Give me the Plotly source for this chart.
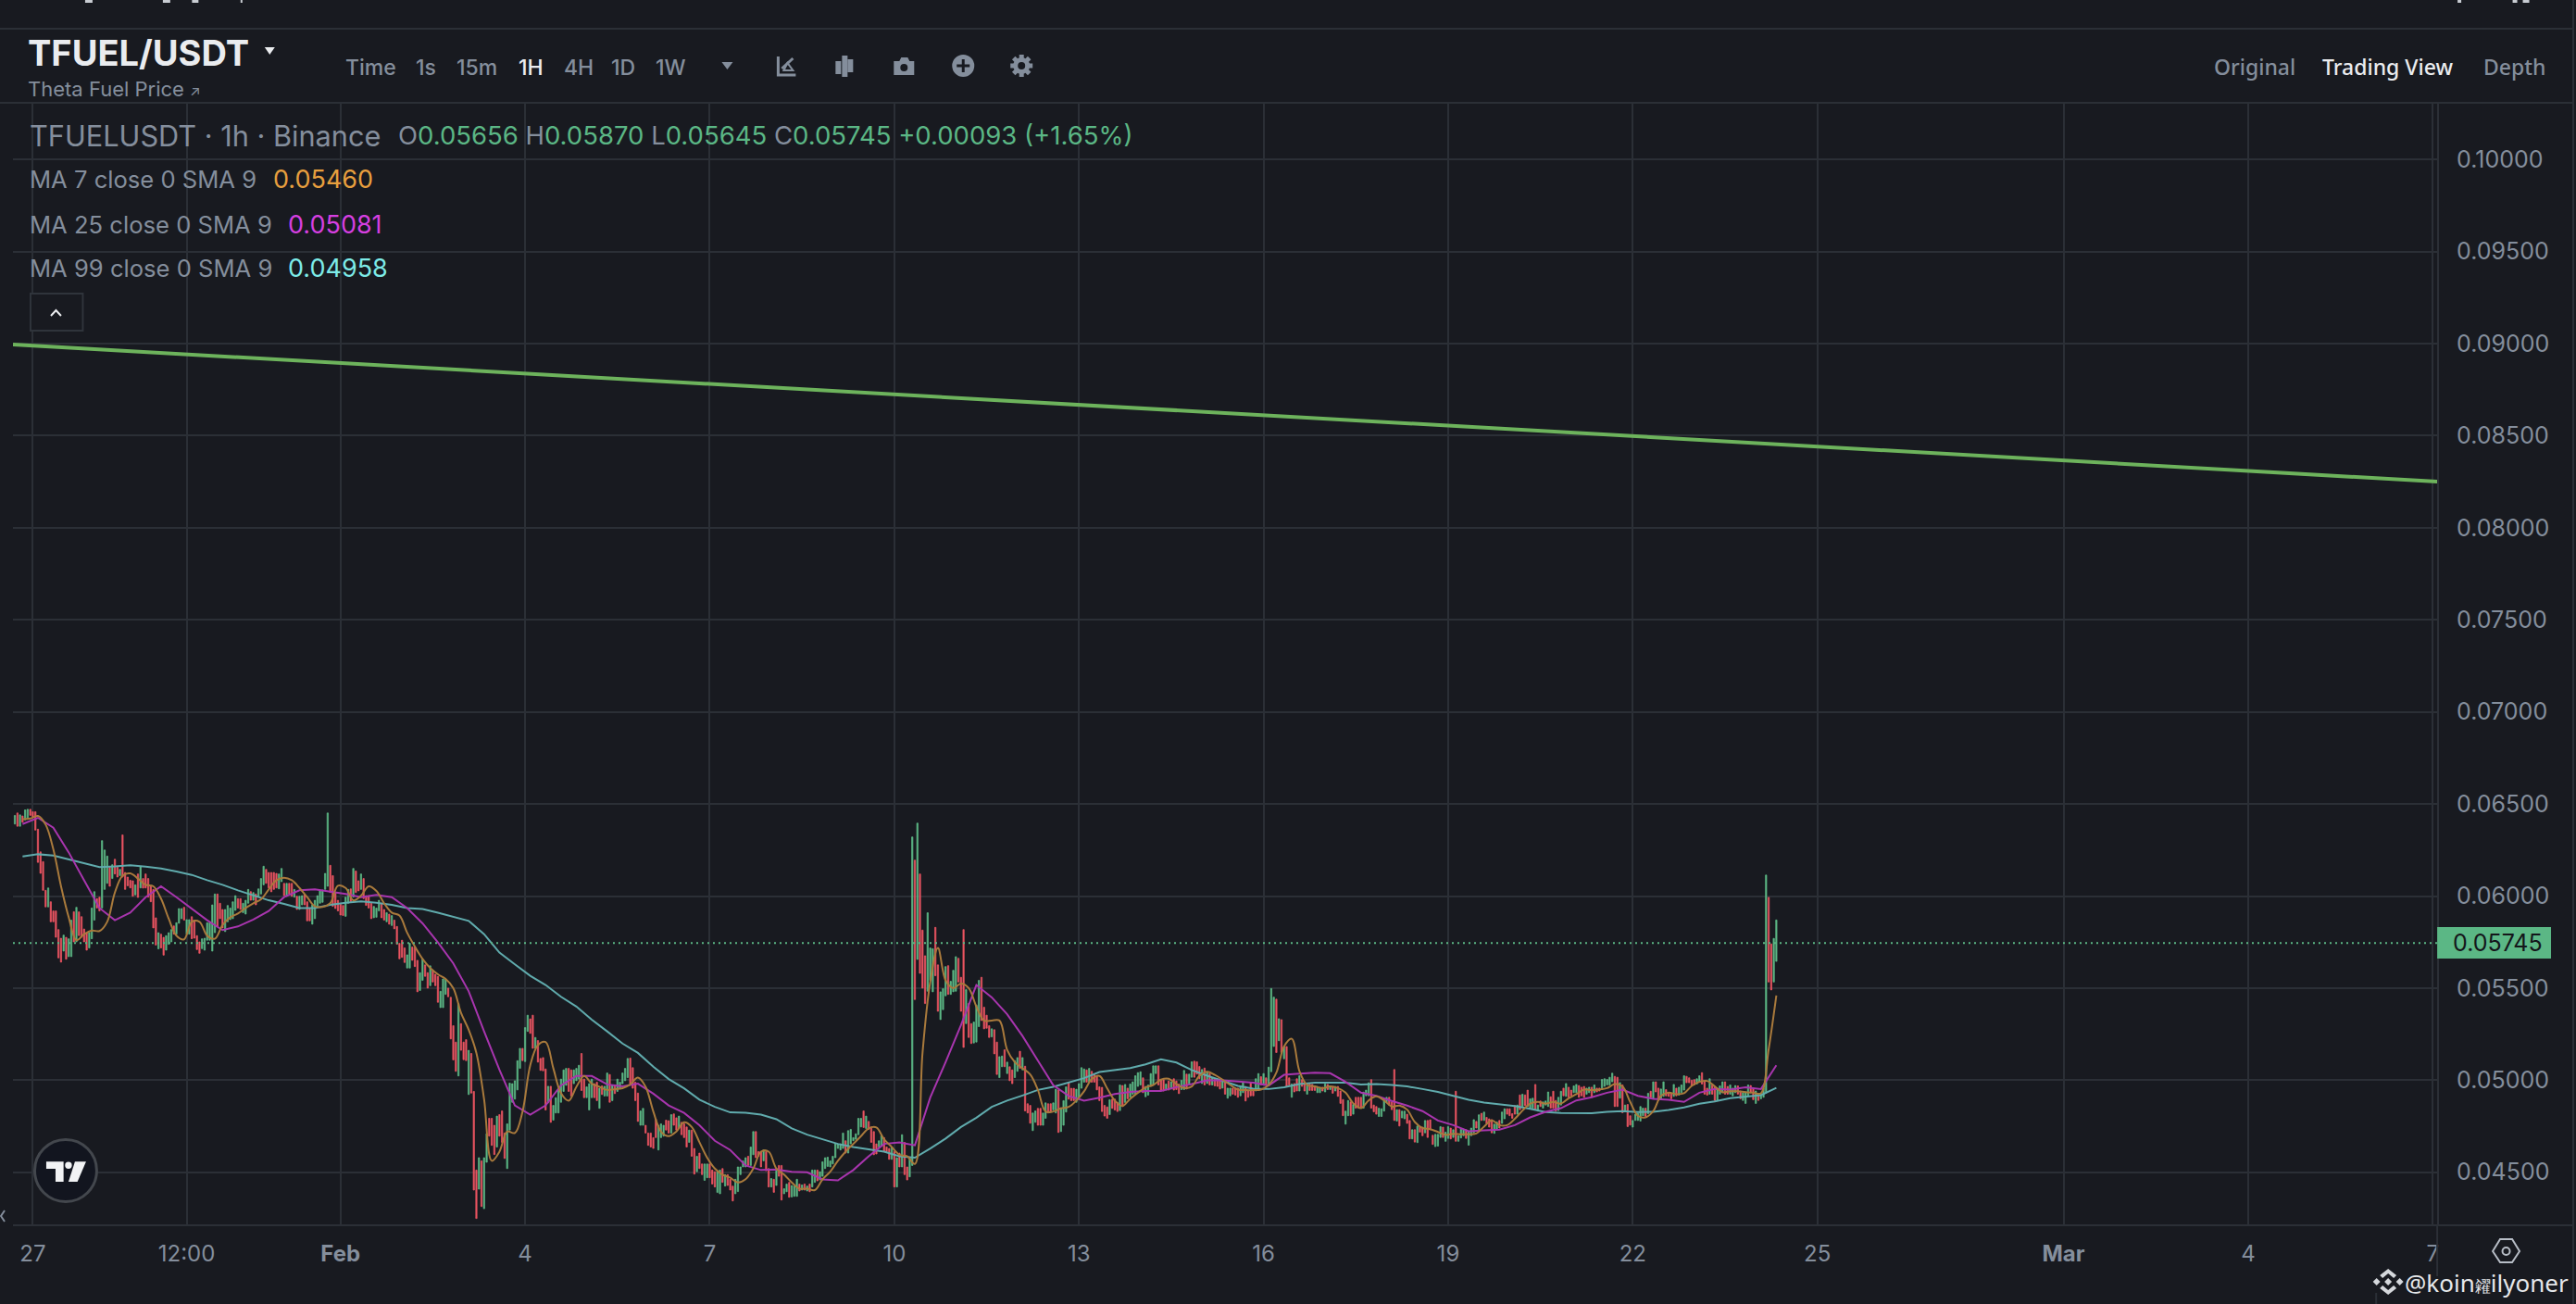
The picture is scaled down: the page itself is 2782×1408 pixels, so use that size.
import pandas as pd
import plotly.graph_objects as go

W = 2782
H = 1408
BG = "#181a20"
GRID = "#2b2f36"
GREY = "#848e9c"
UP = "#5bb785"
DOWN = "#eb5562"
FONT = "Inter"

# hourly candles, prices in 1e-5 USDT, one group per stretch of the picture
high_e5 = [
    6438,6451,6441,6435,6468,6471,6471,6458,6458,6363,
    6240,6187,6031,6044,5969,5919,5919,5818,5771,5788,
    5776,5768,5869,5915,5939,5914,5888,5821,5801,5801,
    5935,6024,5986,5994,6301,6250,6217,6160,6170,6200,
    6157,6145,6332,6128,6103,6086,6083,6061,6120,6160,
    6095,6120,6095,6053,6036,5882,5801,5793,5776,5785,
    5801,5818,5838,5855,5932,5932,5939,5872,5872,5888,
    5869,5785,5751,5768,5771,5855,5855,5952,6011,6011,
    5961,5927,5927,5949,5935,5969,6002,5986,5986,5961,
    5977,6036,6024,6019,6011,6039,6095,6162,6145,6128,
    6128,6128,6123,6120,6150,6069,6069,6069,6069,6036,
    5999,5999,6002,6009,5969,5935,5952,5977,6002,6028,
    6033,6123,6451,6167,6111,6019,5977,5955,5949,5994,
    6036,6039,6150,6136,6083,6120,6095,6002,6002,5961,
    5944,5935,5977,
    5961,5927,5910,5902,5894,5869,5835,5743,5760,5718,
    5681,5743,5723,5723,5651,5584,5659,5626,5584,5621,
    5597,5575,5564,5483,5550,5550,5500,5450,5296,5207,
    5416,5307,5207,5220,5162,5145,4939,4512,4579,4562,
    4579,4709,4793,4793,4755,4805,4813,4833,4713,4763,
    4984,4981,4997,5106,5173,5173,5286,5353,5333,5353,
    5232,5215,5118,5123,5061,4967,4967,4863,4905,4947,
    5006,5056,5064,5064,5056,5056,5064,5081,5145,5006,
    4964,4981,5006,4981,4989,4956,4969,4967,5039,5031,
    4972,4972,5006,4989,5039,5064,5118,5120,5068,4989,
    4930,4833,4847,4755,4713,4713,4688,4788,4755,4763,
    4755,4783,4780,4813,4817,4796,4805,4771,4763,4746,
    4729,4729,4629,4587,4604,4545,4545,4545,4545,4512,
    4503,4503,4512,4520,4487,4487,4462,4425,4462,4529,
    4529,4562,4579,4587,
    4637,4721,4721,4612,4612,4621,4612,4520,4466,4462,
    4520,4537,4537,4411,4436,4445,4428,4425,4462,4436,
    4431,4436,4425,4436,4512,4512,4512,4503,4557,4579,
    4582,4562,4587,4654,4654,4654,4713,4671,4726,4733,
    4688,4709,4793,4793,4833,4805,4776,4746,4721,4654,
    4671,4699,4688,4637,4629,4637,4612,4579,4604,4704,
    4662,4529,4579,6321,6195,6396,6120,5815,5676,5909,
    5718,5714,5830,5626,5480,5497,5617,5622,5537,5597,
    5671,5662,5559,5818,5492,5416,5307,5316,5408,5542,
    5559,5396,5353,5296,5279,5274,5207,5128,5131,5165,
    5098,5073,5056,5106,5123,5157,5123,5076,4872,4863,
    4822,4833,4847,4847,4822,4877,4872,4872,4877,4951,
    4947,4850,4889,4964,4989,4956,4956,4951,4981,5068,
    5061,5056,5064,5048,5031,5023,4964,4961,4863,4855,
    4894,4897,4897,4880,
    4974,4971,4977,4957,4979,4991,5024,5041,5046,5013,
    4966,4974,5036,5078,5078,5078,5003,5003,4979,4996,
    4991,5008,4996,4979,4999,5053,5033,5033,5100,5103,
    5100,5074,5058,5066,5046,5036,5013,5008,5008,5003,
    4994,4986,4957,4957,4957,4957,4957,4966,4986,4966,
    4946,4986,4949,5008,5036,5019,5036,5013,5071,5498,
    5451,5440,5334,5329,5183,5183,5013,4979,4982,5008,
    5024,5003,4991,4982,4979,4977,4969,4966,4962,4962,
    4979,4977,4969,4966,4966,4966,4941,4895,4832,4890,
    4882,4868,4907,4907,4907,4935,4946,4986,5003,4865,
    4857,4848,4845,4899,4907,4907,4882,5058,4840,4840,
    4832,4832,4815,4781,4731,4731,4751,4748,4745,4781,
    4781,4785,4701,4706,4706,4748,4745,4718,4748,4740,
    4731,4940,4698,4734,4734,4731,4723,4740,
    4786,4776,4812,4820,4827,4798,4790,4786,4761,4773,
    4781,4827,4845,4845,4845,4818,4862,4865,4920,4924,
    4920,4946,4899,4902,4977,4865,4887,4882,4887,4936,
    4910,4940,4890,4907,4940,4957,4982,4962,4946,4969,
    4977,4971,4962,4966,4957,4962,4962,4974,4957,4957,
    5004,5008,5004,5016,5038,5021,5016,4987,4974,4865,
    4868,4807,4781,4815,4820,4857,4848,4848,4929,4940,
    4991,4991,4957,4952,4991,4949,4932,4929,4977,4957,
    4962,4974,5024,5021,5013,4999,5003,5008,5024,5041,
    4991,4957,5008,4974,4966,4957,4969,4991,4991,4966,
    4974,4957,4971,4969,4941,4932,4936,4974,4971,4957,
    4941,4915,4924,4957,6114,5993,5740,5770,5870,
]
low_e5 = [
    6391,6379,6379,6401,6413,6421,6438,6430,6358,6183,
    6123,6031,5941,5941,5860,5860,5776,5664,5641,5701,
    5657,5671,5671,5751,5751,5785,5776,5751,5706,5718,
    5768,5869,5935,5919,5935,6036,6069,6053,6095,6120,
    6103,6111,6103,6036,6056,6044,5999,6006,5992,6044,
    6043,6044,5994,5969,5827,5734,5713,5718,5679,5706,
    5738,5751,5793,5793,5852,5877,5869,5793,5793,5768,
    5771,5709,5689,5714,5706,5760,5760,5701,5801,5835,
    5877,5827,5807,5860,5872,5877,5922,5935,5927,5910,
    5902,5961,5977,5977,5952,5994,6011,6061,6069,6044,
    6023,6036,6044,6039,6078,6002,5999,6011,5999,5994,
    5927,5927,5952,5952,5865,5865,5847,5877,5939,5961,
    5966,6036,6053,6019,5944,5932,5919,5897,5894,5890,
    5961,5969,5994,6019,6028,6036,5986,5949,5935,5877,
    5882,5885,5919,
    5882,5869,5860,5847,5840,5822,5738,5659,5667,5639,
    5609,5609,5651,5617,5480,5487,5542,5564,5500,5513,
    5533,5513,5423,5394,5394,5466,5453,5224,5110,5048,
    5023,5162,5111,5106,4922,4930,4403,4249,4408,4314,
    4302,4554,4696,4646,4596,4637,4696,4662,4575,4520,
    4729,4880,4897,4947,5064,5106,5101,5265,5254,5173,
    5173,5098,5053,5051,4838,4877,4771,4783,4822,4822,
    4880,4939,4972,4939,4914,4981,4997,5006,4944,4905,
    4905,4838,4905,4905,4889,4847,4922,4914,4914,4880,
    4889,4927,4939,4956,4981,4997,5014,4981,4956,4889,
    4776,4755,4755,4713,4646,4637,4629,4688,4621,4688,
    4696,4729,4713,4713,4755,4729,4738,4704,4688,4637,
    4662,4587,4490,4503,4520,4487,4456,4470,4470,4436,
    4420,4390,4383,4445,4425,4428,4403,4344,4383,4395,
    4487,4529,4529,4537,
    4537,4595,4579,4587,4529,4562,4508,4420,4420,4391,
    4428,4478,4349,4383,4394,4364,4366,4369,4369,4398,
    4403,4403,4398,4394,4420,4445,4453,4458,4478,4520,
    4532,4529,4545,4579,4629,4621,4629,4604,4604,4654,
    4671,4679,4704,4746,4743,4738,4733,4662,4595,4599,
    4637,4642,4612,4612,4570,4570,4420,4420,4529,4529,
    4487,4458,4475,4537,5438,5656,5580,5500,5416,5483,
    5542,5480,5567,5374,5329,5383,5458,5466,5466,5480,
    5483,5533,5374,5178,5307,5232,5199,5202,5207,5291,
    5324,5279,5282,5232,5235,5143,5031,5014,5073,5073,
    5036,4997,4981,5014,5048,5064,5056,4833,4822,4766,
    4726,4771,4755,4755,4755,4793,4822,4830,4838,4822,
    4716,4721,4755,4827,4897,4889,4889,4880,4905,4956,
    4989,4989,4989,4989,4989,4947,4889,4830,4805,4793,
    4813,4847,4838,4830,
    4835,4857,4879,4899,4907,4924,4924,4966,4974,4932,
    4910,4919,4966,4974,5036,4974,4946,4941,4946,4946,
    4952,4946,4949,4927,4949,4949,4952,4979,5016,5016,
    5033,5008,4982,4974,4982,4974,4974,4969,4966,4952,
    4957,4924,4902,4915,4924,4919,4907,4915,4932,4887,
    4907,4915,4915,4941,4957,4974,4974,4974,4974,5046,
    5183,5150,5214,5150,5116,4966,4974,4907,4936,4941,
    4941,4966,4941,4924,4944,4944,4944,4932,4932,4941,
    4936,4949,4949,4929,4941,4912,4874,4807,4761,4807,
    4807,4815,4848,4848,4852,4848,4915,4915,4848,4828,
    4815,4803,4803,4832,4879,4865,4840,4781,4778,4751,
    4795,4790,4765,4681,4681,4664,4661,4718,4698,4714,
    4689,4731,4651,4639,4642,4689,4689,4668,4684,4681,
    4689,4668,4668,4686,4698,4684,4647,4698,
    4714,4740,4723,4781,4781,4765,4745,4714,4711,4731,
    4740,4765,4790,4815,4807,4793,4815,4815,4840,4857,
    4862,4857,4848,4848,4840,4832,4857,4848,4865,4857,
    4848,4848,4832,4835,4865,4915,4912,4907,4915,4932,
    4932,4907,4915,4907,4924,4932,4907,4932,4936,4941,
    4949,4966,4974,4974,4991,4857,4857,4902,4823,4832,
    4748,4756,4745,4781,4781,4778,4807,4803,4818,4907,
    4899,4936,4890,4899,4912,4915,4912,4899,4912,4915,
    4919,4932,4946,4986,4986,4969,4974,4979,4991,4979,
    4924,4919,4924,4924,4890,4890,4924,4932,4924,4924,
    4924,4915,4932,4924,4899,4890,4874,4912,4932,4894,
    4874,4890,4899,4907,4930,5533,5490,5533,5645,
]
# G = closed up, R = closed down
sides = (
    "GRGRGGRRRR" "RRRGRRRRRG" "RGGRGRRRRG" "GGRRGGGRGR" "RGRRRRRGRG" "RRRRRRGRRG" "GGRGGGRGGR"
    "RRRGGGGGGR" "RRGGGGGRRG" "GGRGRGGGRR" "RRRGGRGRRG" "RGGRRRGGGG" "GGGRRRRRRG" "GRGRRGRRRR" "GGG"
    "RRGRGRRRRR" "GGRRRGGRRG" "RRRGGGRRRR" "GRRRGRRRGR" "GGRRRGRRRG" "GGGGGRGGRR" "GRRRRGRGGG"
    "GGGRRGGGRR" "GGGRRGRGGR" "GRGGGGGRRR" "RGGRRRRRGG" "GRRGRRGRRR" "GRRGRRGGRR" "RGGRGRRRGG" "GGGR"
    "GGRRRGRRGR" "GRRGGRGGGR" "GRGRGGRGGG" "GGGGGGGRGG" "GGGGRGRRRR" "GGRRRGRGRG" "RRGGRGRRRG"
    "GGRRGGGRGG" "GRRRGRRGGG" "RRRRGRRGGR" "GRRGGRGRRR" "GGRRGGRRGG" "RGGGRRRGGG" "GRGRRRRRRR" "GRRR"
    "GRGRGGGGGR" "GGGGGRRRGR" "GRRRGGRGGR" "RRGRGRGRRR" "GRGGRRRGGR" "RRRGGRGRGG" "GRGRGRRGRR"
    "GRRGRRRGGR" "GRGRGRRRGG" "RGRRRGGGRR" "RGGGGRRRGR" "GGRRGRGRRG" "RRRGGGRGGR" "GRGGGRGG"
    "GRGRGRRRGG" "RGGRRRRGRG" "RRGGRGRGGG" "RRRGGRGRRG" "GRRRGGRGRR" "GGGGGRRGRG" "RRGGGGGRGR"
    "GRRGGRRRGR" "GGGRRRRGGR" "RRGRRGGGRR" "GGGRRGGGRR" "GRGGGRRGG"
)

# moving averages, MA 7 every 3 hours, MA 25 and MA 99 every 6 hours, last point on the last candle
ma7_e5 = [
    6418,6421,6435,6388,6254,6053,5885,5760,5793,5813,5810,5860,6019,6111,6123,6095,
    6061,6053,5986,5877,5785,5765,5860,5860,5785,5768,5843,5885,5905,5935,5961,5982,
    6036,6086,6100,6086,6044,5994,5944,5941,5961,6056,6044,5977,6002,6053,6028,5961,
    5910,5894,5801,5726,5659,5609,5575,5550,5500,5366,5274,5148,4897,4562,4612,4721,
    4713,4830,5081,5190,5207,5065,4930,4889,4964,5023,4981,4964,4947,4951,4956,4977,
    5014,4964,4830,4721,4696,4721,4771,4746,4663,4579,4520,4487,4470,4445,4462,4520,
    4612,4612,4520,4487,4445,4411,4411,4403,4461,4503,4562,4612,4654,4696,4738,4743,
    4679,4637,4595,4587,4545,5148,5533,5718,5542,5500,5525,5500,5400,5324,5324,5324,
    5165,5098,5065,5031,4947,4830,4830,4847,4855,4889,4939,5006,5023,4956,4889,4860,
    4899,4932,4961,4974,5003,5008,4979,4957,4966,5024,5046,5029,5003,4974,4949,4946,
    4946,4949,4974,5041,5183,5225,5049,4974,4966,4957,4966,4957,4932,4874,4848,4890,
    4912,4890,4857,4862,4840,4773,4740,4734,4719,4703,4709,4706,4706,4711,4748,4781,
    4756,4756,4790,4835,4873,4882,4873,4882,4873,4902,4924,4949,4946,4949,4957,4979,
    4966,4882,4807,4798,4832,4915,4932,4924,4929,4969,4991,4996,4966,4935,4940,4940,
    4935,4932,4929,5167,5460,
]
ma25_e5 = [
    6391,6425,6371,6237,6086,5935,5869,5910,5994,6053,5994,5932,5869,5815,5835,5872,
    5919,5994,6031,6036,6023,6011,5994,6006,
    5994,5935,5852,5748,5634,5483,5265,5056,4863,4813,4863,4972,5023,5023,4977,4967,
    4981,4927,4863,4822,4755,4671,4621,4537,
    4512,4515,4503,4500,4461,4456,4512,4587,4654,4662,4646,4905,5098,5299,5517,5450,
    5358,5240,5106,4972,4914,4889,4905,4925,
    4936,4941,4941,4962,4979,4999,4999,4994,4986,4971,5029,5036,5041,5038,4991,4932,
    4915,4887,4862,4832,4781,4756,4723,
    4728,4731,4756,4798,4828,4848,4890,4907,4932,4949,4915,4899,4894,4882,4932,4952,
    4949,4961,4952,5081,
]
ma99_e5 = [
    6215,6227,6220,6198,6177,6157,6161,6167,6160,6150,6133,6115,6086,6061,6031,6002,
    5977,5957,5935,5935,5952,5964,5971,5964,
    5952,5935,5930,5910,5888,5865,5793,5693,5629,5567,5517,5453,5400,5329,5265,5199,
    5148,5073,5006,4956,4894,4855,4825,4823,
    4813,4788,4738,4704,4679,4654,4637,4624,4612,4587,4579,4629,4683,4746,4796,4855,
    4889,4917,4947,4964,4989,5011,5044,5054,
    5066,5086,5113,5096,5055,5024,4997,4969,4954,4952,4961,4979,4986,4987,4986,4977,
    4979,4974,4966,4952,4936,4915,4894,
    4879,4868,4860,4845,4827,4822,4822,4820,4828,4832,4827,4828,4838,4852,4872,4885,
    4902,4910,4919,4958,
]

# drawn trend line, two ends at the plot edges
trend_x = ["2025-01-26 16:15", "2025-03-07 01:45"]
trend_y = [0.08995, 0.08251]

y_ticks = [0.045, 0.05, 0.055, 0.06, 0.065, 0.07, 0.075, 0.08, 0.085, 0.09, 0.095, 0.10]
x_ticks = ["2025-01-27", "2025-01-29 12:00", "2025-02-01", "2025-02-04", "2025-02-07", "2025-02-10", "2025-02-13",
           "2025-02-16", "2025-02-19", "2025-02-22", "2025-02-25", "2025-03-01", "2025-03-04", "2025-03-07"]
x_labels = ["27", "12:00", "<b>Feb</b>", "4", "7", "10", "13", "16", "19", "22", "25", "<b>Mar</b>", "4", "7"]

last_price = 0.05745
ohlc_text = [("O", "0.05656"), ("H", "0.05870"), ("L", "0.05645"), ("C", "0.05745")]
change_text = "+0.00093 (+1.65%)"
ma_rows = [("MA 7 close 0 SMA 9", "0.05460", "#e79f3e", 193, 295),
           ("MA 25 close 0 SMA 9", "0.05081", "#d63fe0", 242, 311),
           ("MA 99 close 0 SMA 9", "0.04958", "#7debe8", 289, 311)]
periods = [("Time", 373, GREY), ("1s", 449, GREY), ("15m", 493, GREY), ("1H", 560, "#eaecef"),
           ("4H", 609, GREY), ("1D", 660, GREY), ("1W", 709, GREY)]

high = [v / 100000 for v in high_e5]
low = [v / 100000 for v in low_e5]
assert len(high) == len(low) == len(sides)
hours = pd.date_range(end="2025-02-24 08:00", periods=len(high), freq="h")
open_ = [l if s == "G" else h for h, l, s in zip(high, low, sides)]
close = [h if s == "G" else l for h, l, s in zip(high, low, sides)]


def X(px):
    return px / W


def Y(py):
    return 1 - py / H


def points(pts, closed=False):
    path = "M " + " L ".join(f"{X(a):.5f} {Y(b):.5f}" for a, b in pts)
    return path + (" Z" if closed else "")


fig = go.Figure()
fig.add_trace(go.Candlestick(
    x=hours, open=open_, high=high, low=low, close=close,
    increasing=dict(line=dict(color=UP, width=0.7), fillcolor=UP),
    decreasing=dict(line=dict(color=DOWN, width=0.7), fillcolor=DOWN),
    whiskerwidth=0, hoverinfo="skip", showlegend=False))

for vals, step, color, shape in [(ma99_e5, "6h", "#60abad", "linear"), (ma25_e5, "6h", "#a835ae", "linear"),
                                 (ma7_e5, "3h", "#a97a3c", "spline")]:
    fig.add_trace(go.Scatter(
        x=pd.date_range(end=hours[-1], periods=len(vals), freq=step), y=[v / 100000 for v in vals],
        mode="lines", line=dict(color=color, width=2, shape=shape), hoverinfo="skip", showlegend=False))

fig.add_trace(go.Scatter(x=trend_x, y=trend_y, mode="lines", line=dict(color="#6db35c", width=4),
                         hoverinfo="skip", showlegend=False))
fig.add_trace(go.Scatter(x=trend_x, y=[last_price, last_price], mode="lines",
                         line=dict(color=UP, width=2, dash="2px,4px"), hoverinfo="skip", showlegend=False))


def add_text(px, py, text, size=24, color=GREY, weight=400, font=FONT, anchor="left"):
    fig.add_annotation(x=X(px), y=Y(py), xref="paper", yref="paper", text=text, showarrow=False,
                       xanchor=anchor, yanchor="middle", borderpad=0, borderwidth=0,
                       font=dict(family=font, size=size, color=color, weight=weight))


def add_path(path, color=None, fill=None, width=2):
    fig.add_shape(type="path", path=path, xref="paper", yref="paper",
                  line=dict(color=color or "rgba(0,0,0,0)", width=width), fillcolor=fill)


def add_line(x0, y0, x1, y1, color=GRID, width=2):
    fig.add_shape(type="line", xref="paper", yref="paper", x0=X(x0), y0=Y(y0), x1=X(x1), y1=Y(y1),
                  line=dict(color=color, width=width))


def add_circle(cx, cy, r, color=None, fill=None, width=2):
    fig.add_shape(type="circle", xref="paper", yref="paper", x0=X(cx - r), x1=X(cx + r), y0=Y(cy - r), y1=Y(cy + r),
                  line=dict(color=color or "rgba(0,0,0,0)", width=width), fillcolor=fill)


# header bands
add_line(0, 31, W, 31)
add_line(0, 111, W, 111)
add_line(14, 1323, W, 1323)
add_line(W - 1, 0, W - 1, 1408)
add_line(2634, 1323, 2634, 1378)
add_line(2568, 1396, 2568, 1408)

# bottoms of the cropped line of text at the very top of the screenshot
for px, wide in [(96, 8), (180, 8), (211, 7), (261, 2), (2658, 4), (2718, 5), (2730, 7)]:
    add_line(px - wide / 2, 1.5, px + wide / 2, 1.5, color="#c8ccd2", width=3)

add_text(30, 57, "TFUEL/USDT", size=38, color="#eaecef", weight=700)
add_path(points([(286, 51), (297, 51), (291.5, 59)], True), fill="#eaecef")
add_text(30, 96, "Theta Fuel Price <span style='font-size:15px'>↗</span>", size=22, color=GREY)
for label, px, color in periods:
    add_text(px, 73, label, size=23, color=color, weight=500)
add_path(points([(780, 67), (792, 67), (786, 75)], True), fill=GREY)

# toolbar icons
add_path(points([(841, 61), (841, 81), (860, 81)]), color=GREY, width=3)
add_path(points([(845, 74), (857, 63)]), color=GREY, width=3)
add_path(points([(847, 76), (857, 76), (851, 68)], True), color=GREY, width=2)
for bx, by0, by1 in [(906, 66, 80), (913, 60, 83), (919, 64, 78)]:
    add_line(bx, by0, bx, by1, color=GREY, width=6)
add_path(points([(966, 66), (972, 66), (974, 62), (981, 62), (983, 66), (988, 66), (988, 81), (966, 81)], True), fill=GREY)
add_circle(977, 73, 4, fill=BG)
add_circle(1041, 71, 12, fill=GREY)
add_line(1041, 64, 1041, 78, color=BG, width=3)
add_line(1034, 71, 1048, 71, color=BG, width=3)
add_circle(1104, 71, 9, fill=GREY)
add_circle(1104, 71, 4, fill=BG)
for dx, dy in [(0, 12), (0, -12), (12, 0), (-12, 0), (8.5, 8.5), (-8.5, 8.5), (8.5, -8.5), (-8.5, -8.5)]:
    add_line(1104 + dx * 0.6, 71 + dy * 0.6, 1104 + dx, 71 + dy, color=GREY, width=5)

add_text(2393, 72, "Original", size=23, color=GREY, weight=500, font="Noto Sans")
add_text(2510, 72, "Trading View", size=23, color="#eaecef", weight=500, font="Noto Sans")
add_text(2684, 72, "Depth", size=23, color=GREY, weight=500, font="Noto Sans")

# chart legend
add_text(32, 146, "TFUELUSDT · 1h · Binance", size=30.7, color=GREY)
ohlc = " ".join(f"{k}<span style='color:{UP}'>{v}</span>" for k, v in ohlc_text)
add_text(430, 146, ohlc + f" <span style='color:{UP}'>{change_text}</span>", size=27.5)
for label, value, color, py, value_x in ma_rows:
    add_text(32, py, label, size=25.6)
    add_text(value_x, py, value, size=27, color=color)
fig.add_shape(type="rect", xref="paper", yref="paper", x0=X(33), x1=X(89.5), y0=Y(317), y1=Y(357),
              line=dict(color="#2f343b", width=2), fillcolor=BG)
add_path(points([(55, 341), (60.5, 335), (66, 341)]), color="#eaecef", width=2)

# price tag on the axis
fig.add_shape(type="rect", xref="paper", yref="paper", x0=X(2634), x1=X(2757), y0=Y(1001), y1=Y(1035),
              line=dict(width=0), fillcolor=UP)
add_text(2651, 1018, f"{last_price:.5f}", size=25, color="#14161a")

# TradingView badge
add_circle(71, 1264, 33.5, color="#43474d", fill="#12151f", width=3)
add_path(points([(50, 1254.3), (68.7, 1254.3), (68.7, 1276), (60, 1276), (60, 1262), (50, 1262)], True), fill="#f2f3f5")
add_circle(74, 1258.3, 3.7, fill="#f2f3f5", width=0)
add_path(points([(81, 1254.3), (93, 1254.3), (83.7, 1276), (74, 1276)], True), fill="#f2f3f5")
add_path(points([(5, 1307), (1, 1313), (5, 1319)]), color=GREY, width=2)

# settings hexagon and watermark
add_path(points([(2694, 1351), (2702, 1338), (2715, 1338), (2723, 1351), (2715, 1363), (2702, 1363)], True),
         color="#b7bdc6", width=2)
add_circle(2708.5, 1351, 4, color="#b7bdc6", width=2)
for cx, cy in [(2581, 1384), (2568.5, 1384), (2593.5, 1384)]:
    add_path(points([(cx, cy - 4), (cx + 4, cy), (cx, cy + 4), (cx - 4, cy)], True), fill="#d5d8dc")
add_path(points([(2572, 1377), (2581, 1370), (2590, 1377), (2587, 1380), (2581, 1375), (2575, 1380)], True), fill="#d5d8dc")
add_path(points([(2572, 1391), (2581, 1398), (2590, 1391), (2587, 1388), (2581, 1393), (2575, 1388)], True), fill="#d5d8dc")
add_text(2599, 1385, "@koin<span style='font-size:17px'>糴</span>ilyoner", size=26, color="#e5e7ea", font="Noto Sans")

fig.update_layout(
    width=W, height=H, autosize=False, margin=dict(l=0, r=0, t=0, b=0),
    paper_bgcolor=BG, plot_bgcolor=BG, showlegend=False, hovermode=False,
    xaxis=dict(type="date", domain=[X(14), X(2634)], range=["2025-01-26 16:15", "2025-03-07 01:45"],
               rangeslider=dict(visible=False), tickmode="array", tickvals=x_ticks, ticktext=x_labels,
               showgrid=True, gridcolor=GRID, gridwidth=2, zeroline=False, showline=False, ticks="",
               ticklabelstandoff=14, tickfont=dict(family=FONT, size=24, color=GREY)),
    yaxis=dict(side="right", domain=[Y(1323), Y(111)], range=[0.04212, 0.10308], tickmode="array",
               tickvals=y_ticks, tickformat=".5f", showgrid=True, gridcolor=GRID, gridwidth=2, zeroline=False,
               showline=True, linecolor=GRID, linewidth=2, ticks="", ticklabelstandoff=14,
               tickfont=dict(family=FONT, size=25, color=GREY)),
)

# page default margin would push the chart 8px in
fig.write_html("out.html", config={"displayModeBar": False},
               post_script="document.body.style.margin='0';document.body.style.overflow='hidden';")
